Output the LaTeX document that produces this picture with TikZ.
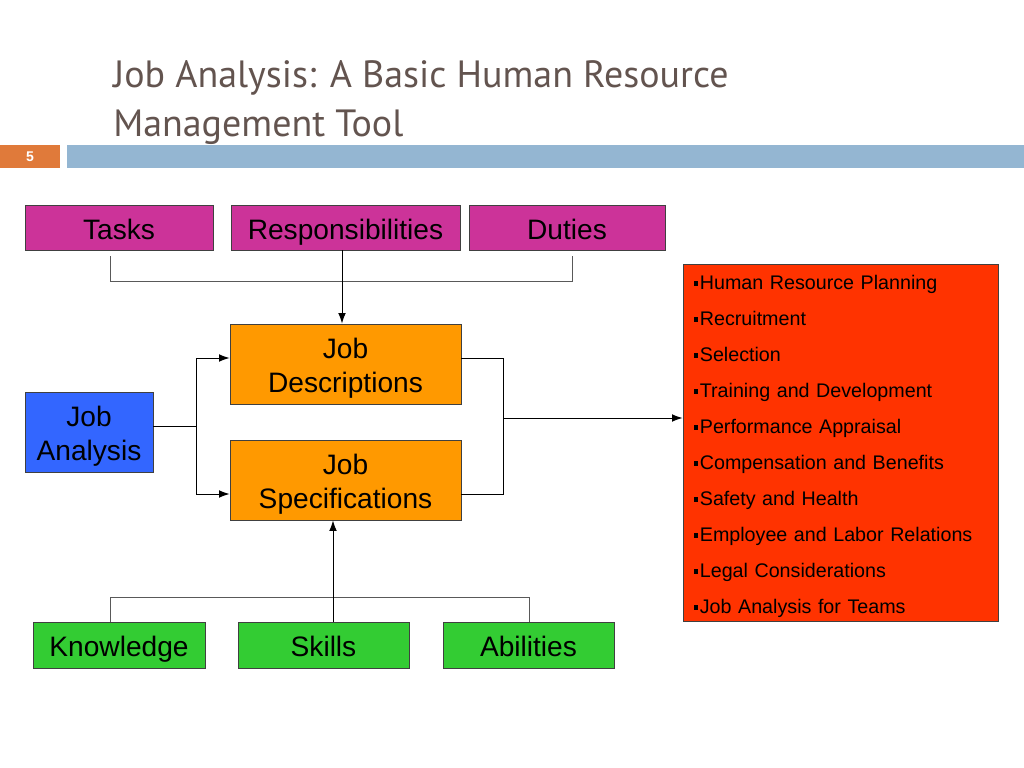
\documentclass[tikz,border=0pt]{standalone}
\usepackage{fontspec}
\setmainfont{Liberation Sans}
\newfontfamily\titlefont{PT Sans}
\usetikzlibrary{arrows.meta,positioning}
\definecolor{tagorange}{RGB}{224,122,58}
\definecolor{barblue}{RGB}{148,182,210}
\definecolor{titlegray}{RGB}{99,84,79}
\definecolor{boxmagenta}{RGB}{204,51,153}
\definecolor{boxorange}{RGB}{255,153,0}
\definecolor{boxblue}{RGB}{51,102,255}
\definecolor{boxred}{RGB}{255,51,0}
\definecolor{boxgreen}{RGB}{51,204,51}
\newcommand{\sqb}{\rule[2.2pt]{3pt}{3.6pt}\hspace{1.2pt}}
\newcommand{\lowtop}{\rule{0pt}{20pt}}

\begin{document}
\begin{tikzpicture}[x=0.025cm,y=-0.025cm,>={Latex[length=7.5pt,width=5.5pt]}]
        \tikzstyle{box}=[draw=black!75, line width=0.6pt, inner sep=0pt, align=center, font=\fontsize{20}{24}\selectfont]
        \tikzstyle{onerow}=[text height=17.6pt, text depth=1.2pt]
        \tikzstyle{bracket}=[draw=black!65, line width=0.6pt]
        \tikzstyle{flow}=[draw=black, line width=0.7pt]
        \useasboundingbox (0,0) rectangle (1024,768);
        % header band
        \fill[tagorange] (0,145) rectangle (60,168);
        \fill[barblue] (67,145) rectangle (1024,168);
        \node[text=white, font=\bfseries\fontsize{10}{12}\selectfont] (pagenum) at (30,156.5) {5};
        \node[anchor=base west, inner sep=0pt, text=titlegray, font=\titlefont\fontsize{27}{30}\selectfont] (title1) at (113,88) {Job Analysis: A Basic Human Resource};
        \node[anchor=base west, inner sep=0pt, text=titlegray, font=\titlefont\fontsize{27}{30}\selectfont] (title2) at (113,137) {Management Tool};
        % top boxes
        \node[box, onerow, fill=boxmagenta, minimum width=4.7cm, minimum height=1.125cm] (tasks) at (119,227.5) {Tasks};
        \node[box, onerow, fill=boxmagenta, minimum width=5.725cm, minimum height=1.125cm] (resp) at (345.5,227.5) {Responsibilities};
        \node[box, onerow, fill=boxmagenta, minimum width=4.9cm, minimum height=1.125cm] (duties) at (567,227.5) {Duties};
        % middle boxes
        \node[box, fill=boxblue, minimum width=3.2cm, minimum height=2cm] (ja) at (89,432) {\lowtop Job\\Analysis};
        \node[box, fill=boxorange, minimum width=5.775cm, minimum height=2cm] (jd) at (345.5,364) {\lowtop Job\\Descriptions};
        \node[box, fill=boxorange, minimum width=5.775cm, minimum height=2cm] (js) at (345.5,480) {\lowtop Job\\Specifications};
        % bottom boxes
        \node[box, onerow, fill=boxgreen, minimum width=4.3cm, minimum height=1.15cm] (know) at (119,645) {Knowledge};
        \node[box, onerow, fill=boxgreen, minimum width=4.275cm, minimum height=1.15cm] (skills) at (323.5,645) {Skills};
        \node[box, onerow, fill=boxgreen, minimum width=4.275cm, minimum height=1.15cm] (abil) at (528.5,645) {Abilities};
        % uses list
        \node[draw=black!75, line width=0.6pt, fill=boxred, minimum width=7.875cm, minimum height=8.925cm,
              text width=7.325cm, inner xsep=0.275cm, inner ysep=0pt, align=left,
              font=\fontsize{14}{25.6}\selectfont] (list) at (840.5,442.5)
              {\rule{0pt}{15pt}\sqb Human Resource Planning\\
               \sqb Recruitment\\
               \sqb Selection\\
               \sqb Training and Development\\
               \sqb Performance Appraisal\\
               \sqb Compensation and Benefits\\
               \sqb Safety and Health\\
               \sqb Employee and Labor Relations\\
               \sqb Legal Considerations\\
               \sqb Job Analysis for Teams};
        % junction points
        \coordinate (tl) at (110,256);
        \coordinate (tr) at (572,256);
        \coordinate (tm) at (342,281);
        \coordinate (bl) at (110,597);
        \coordinate (br) at (529,597);
        \coordinate (bm) at (333,597);
        \coordinate (split) at (196,426.5);
        \coordinate (up) at (196,358);
        \coordinate (down) at (196,494);
        \coordinate (rup) at (503,358);
        \coordinate (rdown) at (503,494);
        \coordinate (merge) at (503,418);
        % brackets
        \draw[bracket] (tl) -- (tl |- tm) -- (tr |- tm) -- (tr);
        \draw[bracket] (know.north -| bl) -- (bl) -- (br) -- (abil.north -| br);
        % arrows
        \draw[flow, ->] (resp.south -| tm) -- (jd.north -| tm);
        \draw[flow, ->] (skills.north -| bm) -- (js.south -| bm);
        \draw[flow] (ja.east |- split) -- (split);
        \draw[flow, ->] (split) -- (up) -- (up -| jd.west);
        \draw[flow, ->] (split) -- (down) -- (down -| js.west);
        \draw[flow] (jd.east |- rup) -- (rup) -- (rdown) -- (js.east |- rdown);
        \draw[flow, ->] (merge) -- (merge -| list.west);
\end{tikzpicture}
\end{document}
